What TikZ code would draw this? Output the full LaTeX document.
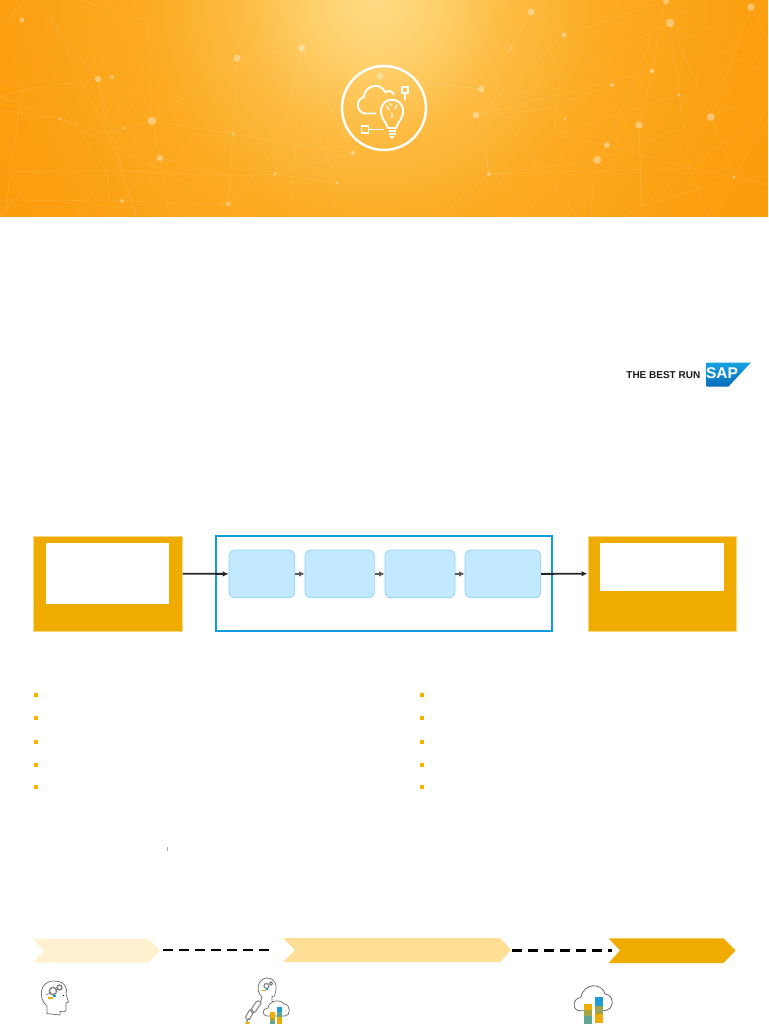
\documentclass[tikz,border=0pt]{standalone}
\usepackage{fontspec}
\setmainfont{Liberation Sans}
\usetikzlibrary{arrows.meta}
\definecolor{sapgold}{HTML}{F0AB00}
\definecolor{goldedge}{HTML}{F9D77F}
\definecolor{frameblue}{HTML}{0F9BDD}
\definecolor{stepfill}{HTML}{C2E9FF}
\definecolor{stepedge}{HTML}{8ED3F2}
\definecolor{chevone}{HTML}{FFF0CF}
\definecolor{chevtwo}{HTML}{FFDF96}
\definecolor{bulletc}{HTML}{F5B000}
\definecolor{iconline}{HTML}{6B6B6B}
\definecolor{barblue}{HTML}{1F9BD7}
\definecolor{barolive}{HTML}{A5A544}
\definecolor{barteal}{HTML}{5FA590}
\definecolor{logotop}{HTML}{17A3E0}
\definecolor{logobot}{HTML}{0B6CBB}
\definecolor{hA}{HTML}{FFDB85}
\definecolor{hB}{HTML}{FED06C}
\definecolor{hC}{HTML}{FDBB42}
\definecolor{hD}{HTML}{FCAB22}
\definecolor{hE}{HTML}{FBA012}
\definecolor{hF}{HTML}{F99805}
\definecolor{hG}{HTML}{F79000}
\pgfdeclareradialshading{headerglow}{\pgfpoint{0bp}{0bp}}{%
  color(0bp)=(hA); color(3bp)=(hB); color(6.5bp)=(hC); color(11bp)=(hD); color(17bp)=(hE); color(27bp)=(hF); color(50bp)=(hG)}
\tikzset{
  net/.style={white,opacity=.13,line width=.45pt},
  dot/.style={circle,fill=white,opacity=.36,inner sep=0pt,minimum size=#1},
  goldbox/.style={fill=sapgold,draw=goldedge,line width=.5pt},
  framebox/.style={draw=frameblue,line width=1.7pt,fill=white},
  stepbox/.style={fill=stepfill,draw=stepedge,line width=.7pt,rounded corners=6pt},
  flow/.style={-{Latex[length=6pt,width=5.5pt]},line width=1.8pt,black!85},
  miniflow/.style={-{Latex[length=5.5pt,width=5.5pt]},line width=1.3pt,black!65},
  bullet/.style={fill=bulletc,inner sep=0pt,minimum size=4pt,rectangle},
  gap/.style={dash pattern=on 10pt off 6pt,black},
  iconw/.style={white,line width=1.9pt,line join=round},
  icong/.style={iconline,line width=.7pt,line join=round},
}
\begin{document}
\begin{tikzpicture}[x=1pt,y=-1pt]
\useasboundingbox (0,0) rectangle (768,1024);
\fill[white] (0,0) rectangle (768,1024);
% header
\begin{scope}
\clip (0,0) rectangle (768,216.5);
\shade[shading=headerglow] (375,0) circle (520);
% network
\draw[net] (0,27)--(22,5)--(33,0) (81,0)--(148,22)--(152,121)--(160,158)--(169,216)
 (0,97)--(22,90)--(98,79)--(152,121) (22,90)--(5,216)
 (34,0)--(98,79)--(108,134)--(60,119)--(0,97)
 (42,0)--(108,134)--(138,216)
 (98,79)--(135,216) (152,121)--(237,58)--(233,134)--(228,204)--(122,201)--(160,158)
 (237,58)--(152,121)--(108,134)--(123,128)
 (152,121)--(233,134)--(300,145)--(353,153)
 (0,110)--(60,119)--(228,204) (0,80)--(60,100)--(107,172)--(75,216)
 (160,158)--(231,176)--(275,174)--(337,183)
 (0,172)--(107,170)--(231,176)--(228,204)
 (0,200)--(122,201) (40,172)--(0,216) (107,172)--(110,216)
 (237,58)--(302,48)--(275,174)--(228,204)
 (237,58)--(300,90)--(337,183)
 (302,48)--(353,153)--(380,160) (233,134)--(290,100)--(302,48)
 (302,48)--(293,175)--(290,216)
 (275,174)--(353,153) (228,204)--(290,135)
 (353,153)--(330,216)
 (481,89)--(489,174)--(477,115)--(564,35)
 (477,115)--(652,71) (481,89)--(511,48)--(531,12)--(564,35)--(612,85)
 (564,35)--(666,1)--(652,71)--(639,125)--(641,207)
 (564,35)--(554,135)--(607,145)--(597,160)--(489,174)--(440,216)
 (554,135)--(679,95)--(711,117)
 (477,115)--(670,23)--(711,117)--(734,177)--(641,207)
 (666,1)--(607,145)--(689,168)
 (666,1)--(768,65) (670,23)--(768,75)
 (670,23)--(689,168)--(708,216)
 (751,7)--(711,117)--(597,160)
 (751,7)--(768,40) (711,117)--(768,90)
 (489,174)--(689,168)--(734,177)--(768,185)
 (481,89)--(577,216)
 (489,174)--(545,216) (597,160)--(590,216)
 (639,125)--(642,207)--(689,168)--(768,110)
 (734,177)--(734,216) (734,177)--(768,120)
 (641,207)--(625,216) (564,35)--(612,85)--(540,110)--(476,115)
 (477,115)--(440,135) (481,89)--(400,80);
\node[dot=7pt] (n1) at (237,58) {};
\node[dot=6.5pt] (n2) at (98,79) {};
\node[dot=8.5pt] (n3) at (152,121) {};
\node[dot=6.5pt] (n4) at (160,158) {};
\node[dot=3.5pt] (n5) at (60,119) {};
\node[dot=3.5pt] (n6) at (233,134) {};
\node[dot=3.5pt] (n7) at (275,174) {};
\node[dot=4pt] (n8) at (228,204) {};
\node[dot=4pt] (n9) at (122,201) {};
\node[dot=3pt] (n10) at (123,128) {};
\node[dot=4pt] (n11) at (112,77) {};
\node[dot=5pt] (n12) at (22,20) {};
\node[dot=7pt] (n13) at (302,48) {};
\node[dot=7pt] (n14) at (380,76) {};
\node[dot=6.5pt] (n15) at (481,89) {};
\node[dot=6.5pt] (n16) at (476,115) {};
\node[dot=4pt] (n17) at (489,174) {};
\node[dot=4pt] (n18) at (353,153) {};
\node[dot=3pt] (n19) at (337,183) {};
\node[dot=7pt] (n20) at (531,12) {};
\node[dot=5pt] (n21) at (564,35) {};
\node[dot=8.5pt] (n22) at (670,23) {};
\node[dot=6pt] (n23) at (666,1) {};
\node[dot=7.5pt] (n24) at (751,7) {};
\node[dot=5pt] (n25) at (652,71) {};
\node[dot=3.5pt] (n26) at (679,95) {};
\node[dot=4pt] (n27) at (612,85) {};
\node[dot=3pt] (n28) at (511,48) {};
\node[dot=3pt] (n29) at (565,119) {};
\node[dot=7.5pt] (n30) at (639,125) {};
\node[dot=8pt] (n31) at (711,117) {};
\node[dot=6pt] (n32) at (607,145) {};
\node[dot=8pt] (n33) at (597,160) {};
\node[dot=3pt] (n34) at (734,177) {};
\end{scope}
% header icon
\node[draw=white,line width=2.5pt,circle,minimum size=84pt,inner sep=0pt] (badge) at (384,108) {};
\draw[iconw] (376,113.5)--(366,113.5) .. controls (356,113.5) and (355,99) .. (364,97)
  .. controls (364,86) and (380,81) .. (385,92) .. controls (389,90) and (393,91) .. (394,95);
\draw[iconw] (388,128) .. controls (386,122) and (381,119) .. (381,111)
  .. controls (381,96) and (403,96) .. (403,111) .. controls (403,119) and (398,122) .. (396,128) -- cycle;
\draw[white,line width=1.4pt] (388.5,131)--(395.5,131) (388.5,134)--(395.5,134) (390,137)--(394,137);
\draw[white,line width=1.2pt] (387,106)--(389,110) (397,105)--(395,109) (392,113)--(392,118) (390,103)--(391,106);
\node[draw=white,line width=1.9pt,minimum size=6.5pt,inner sep=0pt] (plugtop) at (405,90) {};
\coordinate (plugend) at (405,100.5);
\draw[iconw] (plugtop)--(plugend);
\node[draw=white,line width=1.9pt,minimum size=7pt,inner sep=0pt] (plugleft) at (365,129.5) {};
\coordinate (plugleftend) at (383.5,129.5);
\draw[iconw] (plugleft)--(plugleftend);
% logo
\node[anchor=east,inner sep=0pt,font=\bfseries\fontsize{10}{11}\selectfont,text=black!90] (tagline) at (700.5,374.7) {THE BEST RUN};
\shade[top color=logotop,bottom color=logobot] (706.7,362.5)--(751,362.5)--(728.5,386.5)--(706.7,386.5)--cycle;
\node[font=\bfseries\fontsize{15.5}{15.5}\selectfont,text=white,inner sep=0pt] (saplogo) at (722,373.5) {SAP};
% flow
\path[goldbox] (33.5,536.7) rectangle (182.3,631.7);
\coordinate (leftport) at (182.8,573.7);
\fill[white] (46,543.3) rectangle (168.7,604);
\path[framebox] (215.8,536) rectangle (552,631);
\node[stepbox,minimum width=65.7pt,minimum height=47.7pt,inner sep=0pt] (s1) at (261.9,573.9) {};
\node[stepbox,minimum width=69.3pt,minimum height=47.7pt,inner sep=0pt] (s2) at (339.7,573.9) {};
\node[stepbox,minimum width=70pt,minimum height=47.7pt,inner sep=0pt] (s3) at (420,573.9) {};
\node[stepbox,minimum width=75.7pt,minimum height=47.7pt,inner sep=0pt] (s4) at (502.9,573.9) {};
\path[goldbox] (588.3,536.7) rectangle (736,631.7);
\coordinate (rightport) at (587.5,573.7);
\fill[white] (600,543.3) rectangle (723.7,590.7);
\draw[flow] (leftport)--(s1.west);
\draw[miniflow] (s1.east)--(s2.west);
\draw[miniflow] (s2.east)--(s3.west);
\draw[miniflow] (s3.east)--(s4.west);
\draw[flow] (s4.east)--(rightport);
% bullets
\foreach \i/\yy in {1/695,2/718,3/741.5,4/764.5,5/787}{
  \node[bullet] (bl\i) at (36.3,\yy) {};
  \node[bullet] (br\i) at (421.5,\yy) {};
}
\draw[black!35,line width=.5pt] (167,847)--(167,850.5);
% chevrons
\fill[chevone] (33.3,939)--(148.3,939)--(160,950.7)--(148.3,962.3)--(33.3,962.3)--(44,950.7)--cycle;
\fill[chevtwo] (283.3,938)--(500,938)--(511,950)--(500,962)--(283.3,962)--(295,950)--cycle;
\fill[sapgold] (608.7,938.3)--(723.3,938.3)--(735.7,950.5)--(723.3,963)--(608.7,963)--(620,950.5)--cycle;
\coordinate (c1out) at (163,949.7);
\coordinate (c2in) at (272,949.7);
\coordinate (c2out) at (512,950.3);
\coordinate (c3in) at (611.5,950.3);
\draw[gap,line width=1.7pt] (c1out)--(c2in);
\draw[gap,line width=2.6pt] (c2out)--(c3in);
% head icon 1
\draw[icong] (47,1013.5)--(47,1006) .. controls (38,999) and (39,981) .. (54,981)
  .. controls (66,981) and (68,990) .. (66,994) -- (68.5,1002) -- (66,1003) -- (66,1010)
  .. controls (66,1012) and (62,1012) .. (60,1011.5) -- (60,1015) -- cycle;
\draw[iconline,line width=1.5pt,dash pattern=on 1.2pt off .6pt] (53,991) circle (3.6) (59.5,987.5) circle (2.4);
\draw[iconline,line width=.5pt] (46,995)--(50,993);
\fill[sapgold] (47.5,996.5) rectangle (53,998.5);
\fill[barblue] (53,994.5) rectangle (56,997);
\fill (63.5,995.5) circle (.6);
% head icon 2
\draw[icong] (261,1001)--(262,997) .. controls (255,991) and (258,978) .. (267,978)
  .. controls (275,978) and (277,985) .. (276,990) -- (274.5,996) -- (272,996.5) -- (272,1001) -- (279,1005);
\draw[iconline,line width=1.1pt,dash pattern=on 1pt off .5pt] (266.5,986) circle (2.5) (271,983.5) circle (1.6);
\fill[sapgold] (262,989.5) rectangle (265.5,991);
\fill[barblue] (265.5,988) rectangle (268,990);
% chain
\draw[iconline!80,line width=1.1pt,rounded corners=1.5pt] (262,1002)--(257,1000.5)--(250,1011)--(254,1013.5)--cycle (254,1011)--(250,1009)--(245,1018)--(249,1020.5)--cycle;
\draw[iconline!80,line width=1.1pt] (249,1018)--(246.5,1022);
\fill[sapgold] (245,1024)--(247,1021.5)--(250,1022.5)--(249,1024)--cycle;
% cloud with bars 2
\draw[icong,fill=white] (268,1016) .. controls (261,1016) and (262,1008) .. (268,1008)
  .. controls (269,1000) and (281,999) .. (284,1004) .. controls (291,1004) and (291,1016) .. (285,1016) -- cycle;
\fill[sapgold] (270,1012) rectangle (275,1018);
\fill[barolive] (270,1018) rectangle (275,1021);
\fill[barteal] (270,1021) rectangle (275,1024);
\fill[barblue] (277.3,1007) rectangle (282.3,1012);
\fill[barteal] (277.3,1012) rectangle (282.3,1017);
\fill[sapgold] (277.3,1017) rectangle (282.3,1024);
% cloud with bars 3
\draw[iconline,line width=.8pt,line join=round] (584,1010.8)--(580,1010.8) .. controls (572,1010.8) and (572,998) .. (581,997.5)
  .. controls (583,983) and (602,982) .. (605,994) .. controls (615,995) and (615,1010.8) .. (603,1010.8);
\fill[sapgold] (584,1004) rectangle (591.7,1010);
\fill[barolive] (584,1010) rectangle (591.7,1016);
\fill[barteal] (584,1016) rectangle (591.7,1024);
\fill[barblue] (594.7,996.7) rectangle (602.7,1006);
\fill[barolive!85!barteal] (594.7,1006) rectangle (602.7,1014);
\fill[sapgold] (594.7,1014) rectangle (602.7,1022.7);
\end{tikzpicture}
\end{document}
